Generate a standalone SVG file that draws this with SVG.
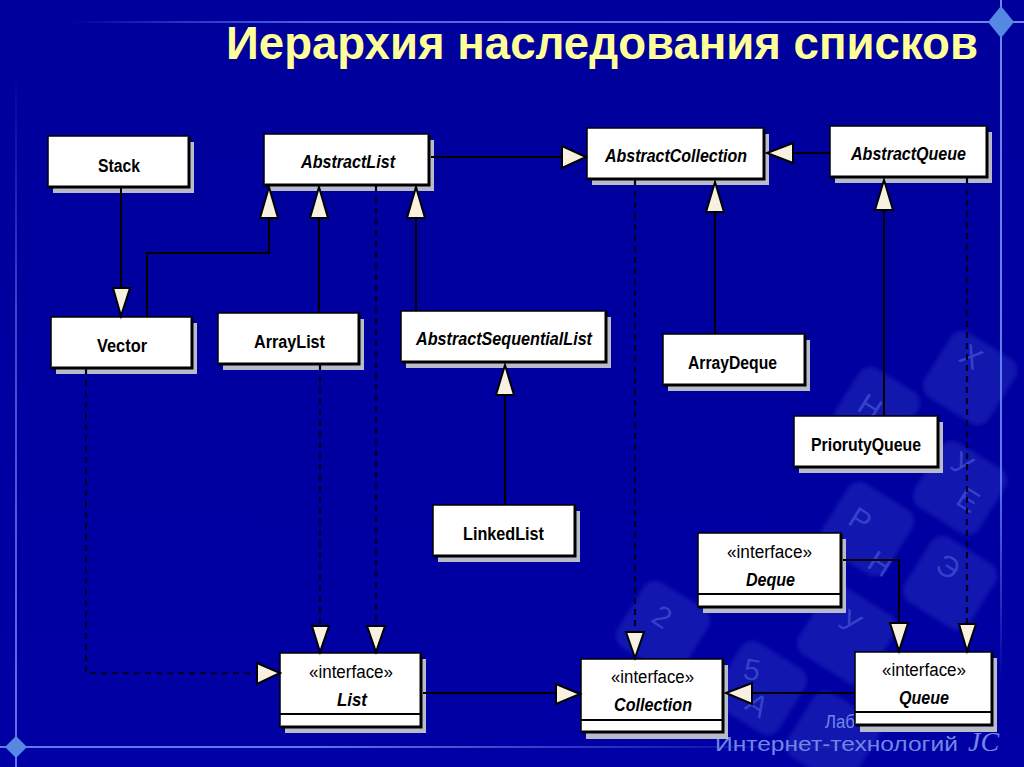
<svg xmlns="http://www.w3.org/2000/svg" width="1024" height="767" viewBox="0 0 1024 767">
<style>
text{font-family:"Liberation Sans",Arial,sans-serif}
.title{font-size:46px;font-weight:bold;fill:#ffff99}
.lbl{font-size:18px;font-weight:bold;fill:#000}
.it{font-style:italic}
.st{font-size:18px;fill:#000}
.box{fill:#fff;stroke:#000;stroke-width:1.5}
.e{fill:none;stroke:#000;stroke-width:3}
.sh{fill:#b9bbc9}
.div{stroke:#000;stroke-width:2;fill:none}
.dia{fill:#5488e2}
.key{fill:#1a2ab8;fill-opacity:.6;filter:url(#soft)}
.kl{font-size:30px;fill:#4a60dc;fill-opacity:.6;text-anchor:middle}
.wm{fill:#7088e4}
.c{fill:none;stroke:#000;stroke-width:2}
.d{fill:none;stroke:#00002a;stroke-width:2.2;stroke-dasharray:6 5}
.a{fill:#f8f0e0;stroke:#000;stroke-width:2;stroke-linejoin:miter}
</style>
<defs>
<filter id="soft" x="-10%" y="-10%" width="120%" height="120%"><feGaussianBlur stdDeviation="2"/></filter>
<linearGradient id="bg" x1="0" y1="0" x2="0" y2="1"><stop offset="0" stop-color="#00009c"/><stop offset="1" stop-color="#0000a4"/></linearGradient>
<linearGradient id="ft" x1="0" y1="0" x2="1" y2="0"><stop offset="0" stop-color="#5f78ea" stop-opacity="0"/><stop offset=".25" stop-color="#4a60e0"/><stop offset="1" stop-color="#6f88f0"/></linearGradient>
<linearGradient id="fb" x1="0" y1="0" x2="1" y2="0"><stop offset="0" stop-color="#5f78ea"/><stop offset=".3" stop-color="#5f78ea"/><stop offset=".75" stop-color="#5f78ea" stop-opacity=".1"/><stop offset="1" stop-color="#5f78ea" stop-opacity="0"/></linearGradient>
<linearGradient id="fl" x1="0" y1="0" x2="0" y2="1"><stop offset="0" stop-color="#5f78ea" stop-opacity="0"/><stop offset=".35" stop-color="#5f78ea" stop-opacity=".6"/><stop offset="1" stop-color="#5f78ea"/></linearGradient>
<linearGradient id="fr" x1="0" y1="0" x2="0" y2="1"><stop offset="0" stop-color="#6f88f0"/><stop offset=".7" stop-color="#5f78ea"/><stop offset="1" stop-color="#5f78ea" stop-opacity="0"/></linearGradient>
</defs>
<rect width="1024" height="767" fill="url(#bg)"/>
<g id="background">
<rect class="key" x="932" y="340" width="76" height="76" rx="14" transform="rotate(32 970 378)"/>
<rect class="key" x="922" y="450" width="76" height="76" rx="14" transform="rotate(32 960 488)"/>
<rect class="key" x="842" y="375" width="70" height="70" rx="14" transform="rotate(32 877 410)"/>
<rect class="key" x="829" y="491" width="76" height="76" rx="14" transform="rotate(32 867 529)"/>
<rect class="key" x="912" y="545" width="76" height="76" rx="14" transform="rotate(32 950 583)"/>
<rect class="key" x="807" y="595" width="80" height="80" rx="14" transform="rotate(32 847 635)"/>
<rect class="key" x="625" y="590" width="76" height="76" rx="14" transform="rotate(32 663 628)"/>
<rect class="key" x="722" y="650" width="76" height="76" rx="14" transform="rotate(32 760 688)"/>
<rect class="key" x="795" y="700" width="76" height="76" rx="14" transform="rotate(32 833 738)"/>
<text class="kl" x="971" y="367" transform="rotate(32 971 357)">Х</text>
<text class="kl" x="870" y="417" transform="rotate(32 870 407)">Н</text>
<text class="kl" x="962" y="474" transform="rotate(32 962 464)">У</text>
<text class="kl" x="968" y="510" transform="rotate(32 968 500)">Е</text>
<text class="kl" x="860" y="530" transform="rotate(32 860 520)">Р</text>
<text class="kl" x="880" y="574" transform="rotate(32 880 564)">Н</text>
<text class="kl" x="948" y="577" transform="rotate(32 948 567)">Э</text>
<text class="kl" x="850" y="632" transform="rotate(32 850 622)">У</text>
<text class="kl" x="662" y="627" transform="rotate(32 662 617)">2</text>
<text class="kl" x="752" y="680" transform="rotate(10 752 670)">5</text>
<text class="kl" x="757" y="715" transform="rotate(32 757 705)">А</text>
<text class="wm" x="825" y="728" font-size="18" textLength="30" lengthAdjust="spacingAndGlyphs">Лаб</text>
<text class="wm" x="715" y="751" font-size="20" textLength="243" lengthAdjust="spacingAndGlyphs">Интернет-технологий</text>
<text class="wm" x="968" y="751" font-size="28" font-style="italic" style="font-family:'Liberation Serif',serif">JC</text>
<rect x="70" y="21" width="954" height="2" fill="url(#ft)"/>
<rect x="0" y="746" width="1024" height="2" fill="url(#fb)"/>
<rect x="15" y="70" width="2" height="697" fill="url(#fl)"/>
<rect x="1000" y="0" width="2" height="680" fill="url(#fr)"/>
<path class="dia" d="M1001 6 L1014 22 L1001 38 L988 22Z"/>
<path class="dia" d="M16 736 L27 747 L16 758 L5 747Z"/>
</g>
<text class="title" x="226" y="59" textLength="752" lengthAdjust="spacingAndGlyphs">Иерархия наследования списков</text>
<g id="stack"><rect class="sh" x="53" y="142" width="141" height="51"/><rect class="box" x="48" y="136" width="141" height="51"/><path class="e" d="M189 137V187H49"/><text class="lbl" x="98" y="172" textLength="42" lengthAdjust="spacingAndGlyphs">Stack</text></g>
<g id="abstract-list"><rect class="sh" x="269" y="140" width="165" height="51"/><rect class="box" x="264" y="134" width="165" height="51"/><path class="e" d="M429 135V185H265"/><text class="lbl it" x="301" y="168" textLength="94" lengthAdjust="spacingAndGlyphs">AbstractList</text></g>
<g id="abstract-collection"><rect class="sh" x="592" y="134" width="177" height="51"/><rect class="box" x="587" y="128" width="177" height="51"/><path class="e" d="M764 129V179H588"/><text class="lbl it" x="605" y="162" textLength="142" lengthAdjust="spacingAndGlyphs">AbstractCollection</text></g>
<g id="abstract-queue"><rect class="sh" x="835" y="132" width="157" height="51"/><rect class="box" x="830" y="126" width="157" height="51"/><path class="e" d="M987 127V177H831"/><text class="lbl it" x="851" y="160" textLength="115" lengthAdjust="spacingAndGlyphs">AbstractQueue</text></g>
<g id="vector"><rect class="sh" x="56" y="323" width="141" height="51"/><rect class="box" x="51" y="317" width="141" height="51"/><path class="e" d="M192 318V368H52"/><text class="lbl" x="97" y="352" textLength="50" lengthAdjust="spacingAndGlyphs">Vector</text></g>
<g id="array-list"><rect class="sh" x="223" y="319" width="141" height="51"/><rect class="box" x="218" y="313" width="141" height="51"/><path class="e" d="M359 314V364H219"/><text class="lbl" x="254" y="348" textLength="71" lengthAdjust="spacingAndGlyphs">ArrayList</text></g>
<g id="abstract-sequential-list"><rect class="sh" x="406" y="317" width="205" height="51"/><rect class="box" x="401" y="311" width="205" height="51"/><path class="e" d="M606 312V362H402"/><text class="lbl it" x="416" y="345" textLength="176" lengthAdjust="spacingAndGlyphs">AbstractSequentialList</text></g>
<g id="array-deque"><rect class="sh" x="668" y="340" width="142" height="51"/><rect class="box" x="663" y="334" width="142" height="51"/><path class="e" d="M805 335V385H664"/><text class="lbl" x="688" y="369" textLength="89" lengthAdjust="spacingAndGlyphs">ArrayDeque</text></g>
<g id="prioruty-queue"><rect class="sh" x="799" y="422" width="144" height="51"/><rect class="box" x="794" y="416" width="144" height="51"/><path class="e" d="M938 417V467H795"/><text class="lbl" x="811" y="451" textLength="110" lengthAdjust="spacingAndGlyphs">PriorutyQueue</text></g>
<g id="linked-list"><rect class="sh" x="438" y="511" width="142" height="51"/><rect class="box" x="433" y="505" width="142" height="51"/><path class="e" d="M575 506V556H434"/><text class="lbl" x="463" y="540" textLength="81" lengthAdjust="spacingAndGlyphs">LinkedList</text></g>
<g id="deque"><rect class="sh" x="703" y="539" width="143" height="74"/><rect class="box" x="698" y="533" width="143" height="74"/><path class="e" d="M841 534V607H699"/><line class="div" x1="698" y1="594" x2="841" y2="594"/><text class="st" x="727" y="558" textLength="85" lengthAdjust="spacingAndGlyphs">«interface»</text><text class="lbl it" x="746" y="586" textLength="49" lengthAdjust="spacingAndGlyphs">Deque</text></g>
<g id="list"><rect class="sh" x="285" y="659" width="141" height="74"/><rect class="box" x="280" y="653" width="141" height="74"/><path class="e" d="M421 654V727H281"/><line class="div" x1="280" y1="714" x2="421" y2="714"/><text class="st" x="309" y="678" textLength="84" lengthAdjust="spacingAndGlyphs">«interface»</text><text class="lbl it" x="337" y="706" textLength="30" lengthAdjust="spacingAndGlyphs">List</text></g>
<g id="collection"><rect class="sh" x="586" y="665" width="142" height="74"/><rect class="box" x="581" y="659" width="142" height="73"/><path class="e" d="M723 660V732H582"/><line class="div" x1="581" y1="720" x2="723" y2="720"/><text class="st" x="611" y="683" textLength="83" lengthAdjust="spacingAndGlyphs">«interface»</text><text class="lbl it" x="614" y="711" textLength="78" lengthAdjust="spacingAndGlyphs">Collection</text></g>
<g id="queue"><rect class="sh" x="860" y="658" width="137" height="74"/><rect class="box" x="855" y="652" width="137" height="73"/><path class="e" d="M992 653V725H856"/><line class="div" x1="855" y1="712" x2="992" y2="712"/><text class="st" x="882" y="676" textLength="84" lengthAdjust="spacingAndGlyphs">«interface»</text><text class="lbl it" x="899" y="704" textLength="50" lengthAdjust="spacingAndGlyphs">Queue</text></g>
<g id="connectors">
<path class="c" d="M121 188V290"/>
<path class="c" d="M147 317V253H269V218"/>
<path class="c" d="M319 313V218"/>
<path class="c" d="M416 311V218"/>
<path class="c" d="M431 157H563"/>
<path class="c" d="M830 153H793"/>
<path class="c" d="M715 334V212"/>
<path class="c" d="M884 416V210"/>
<path class="c" d="M505 505V395"/>
<path class="c" d="M843 560H899V624"/>
<path class="c" d="M423 693H556"/>
<path class="c" d="M855 693H752"/>
<path class="d" d="M86 369V673H257"/>
<path class="d" d="M320 365V627"/>
<path class="d" d="M376 186V627"/>
<path class="d" d="M635 180V632"/>
<path class="d" d="M967 178V624"/>
<path class="a" d="M121 316L113 288H130Z"/>
<path class="a" d="M269 187L260 218H278Z"/>
<path class="a" d="M319 187L310 218H328Z"/>
<path class="a" d="M416 187L407 218H425Z"/>
<path class="a" d="M586 157L562 146V168Z"/>
<path class="a" d="M767 153L793 143V163Z"/>
<path class="a" d="M715 182L706 212H724Z"/>
<path class="a" d="M884 180L875 210H893Z"/>
<path class="a" d="M505 365L496 395H514Z"/>
<path class="a" d="M899 651L890 623H908Z"/>
<path class="a" d="M967 651L959 624H976Z"/>
<path class="a" d="M320 652L312 626H329Z"/>
<path class="a" d="M376 652L367 626H385Z"/>
<path class="a" d="M635 658L626 632H644Z"/>
<path class="a" d="M280 673L257 663V684Z"/>
<path class="a" d="M580 694L556 684V704Z"/>
<path class="a" d="M726 693L752 683V704Z"/>
</g>
</svg>
